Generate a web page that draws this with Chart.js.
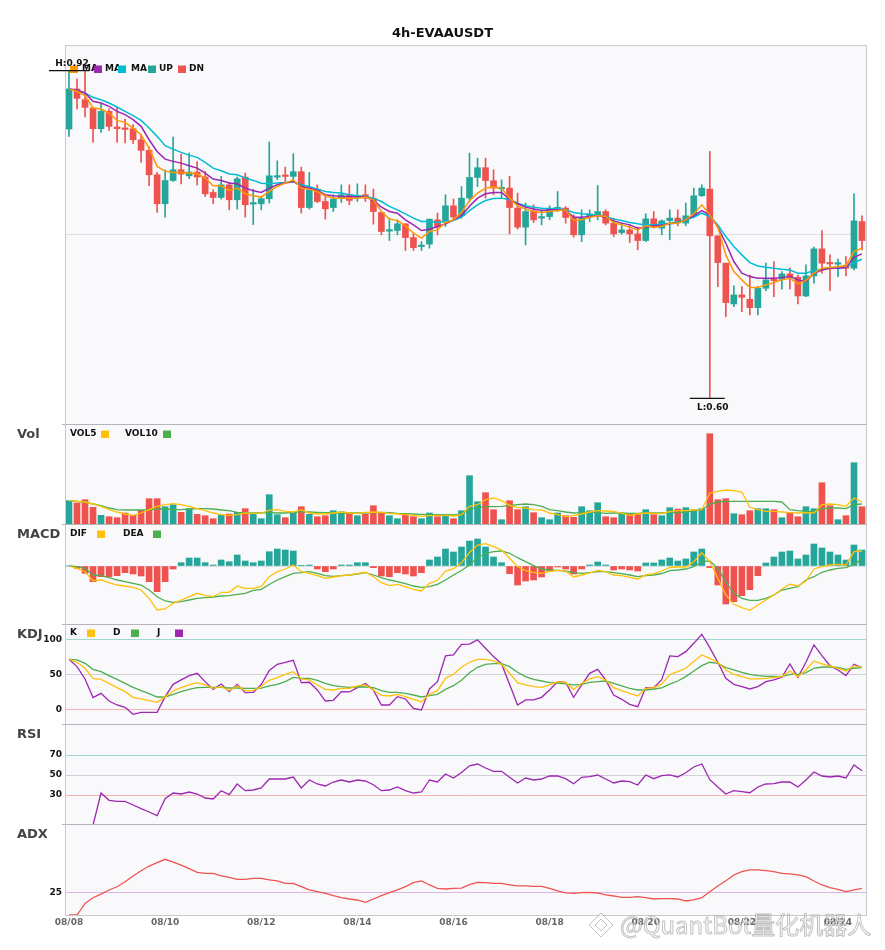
<!DOCTYPE html>
<html>
<head>
<meta charset="utf-8">
<title>4h-EVAAUSDT</title>
<script src="https://cdn.jsdelivr.net/npm/chart.js@4.4.1/dist/chart.umd.min.js"></script>
<style>
  html, body { margin: 0; padding: 0; background: #fff; }
</style>
</head>
<body>
<canvas id="kline" width="885" height="950"></canvas>
<script>
// ---- categories (4h candles from 08/08 00:00) ----
const days = ['08/08','08/09','08/10','08/11','08/12','08/13','08/14','08/15','08/16',
              '08/17','08/18','08/19','08/20','08/21','08/22','08/23','08/24'];
const hours = ['00:00','04:00','08:00','12:00','16:00','20:00'];
const candleCount = 100;

// ---- OHLC ----
const opens = [
  0.8630,0.9021,0.8916,0.8835,0.8633,0.8802,0.8650,0.8633,0.8633,0.8525,
  0.8421,0.8183,0.7900,0.8127,0.8232,0.8173,0.8210,0.8161,0.8010,0.7961,
  0.8085,0.7939,0.8160,0.7897,0.7900,0.7949,0.8160,0.8173,0.8167,0.8213,
  0.7863,0.8043,0.7922,0.7863,0.7961,0.7988,0.7955,0.7988,0.7955,0.7815,
  0.7633,0.7639,0.7704,0.7570,0.7482,0.7506,0.7743,0.7727,0.7880,0.7782,
  0.7955,0.8157,0.8252,0.8125,0.8046,0.8053,0.7858,0.7672,0.7831,0.7760,
  0.7775,0.7851,0.7858,0.7766,0.7597,0.7770,0.7792,0.7824,0.7711,0.7619,
  0.7645,0.7606,0.7541,0.7753,0.7662,0.7736,0.7760,0.7711,0.7792,0.7978,
  0.8043,0.7587,0.7320,0.6922,0.7010,0.6968,0.6886,0.7075,0.7157,0.7163,
  0.7215,0.7183,0.7000,0.7196,0.7460,0.7316,0.7310,0.7300,0.7271,0.7727];
const closes = [
  0.9021,0.8929,0.8841,0.8633,0.8802,0.8655,0.8633,0.8626,0.8525,0.8421,
  0.8183,0.7900,0.8127,0.8232,0.8190,0.8210,0.8161,0.7997,0.7961,0.8085,
  0.7939,0.8144,0.7890,0.7900,0.7949,0.8173,0.8173,0.8167,0.8213,0.7863,
  0.8037,0.7922,0.7851,0.7946,0.7988,0.7932,0.7981,0.7955,0.7824,0.7629,
  0.7639,0.7704,0.7570,0.7472,0.7489,0.7750,0.7678,0.7880,0.7770,0.7955,
  0.8157,0.8252,0.8127,0.8053,0.8056,0.7863,0.7672,0.7824,0.7743,0.7770,
  0.7851,0.7858,0.7766,0.7597,0.7760,0.7802,0.7824,0.7711,0.7606,0.7645,
  0.7606,0.7541,0.7753,0.7672,0.7733,0.7760,0.7717,0.7782,0.7978,0.8053,
  0.7587,0.7326,0.6935,0.7010,0.6987,0.6886,0.7075,0.7157,0.7150,0.7215,
  0.7183,0.7000,0.7196,0.7460,0.7320,0.7313,0.7313,0.7271,0.7733,0.7541];
const highs = [
  0.9200,0.9119,0.9190,0.8840,0.8874,0.8826,0.8841,0.8728,0.8672,0.8574,
  0.8454,0.8206,0.8232,0.8552,0.8386,0.8395,0.8313,0.8215,0.8037,0.8167,
  0.8108,0.8161,0.8200,0.8043,0.7971,0.8503,0.8320,0.8258,0.8389,0.8258,
  0.8206,0.8085,0.7971,0.7988,0.8085,0.8085,0.8095,0.8085,0.8043,0.7815,
  0.7760,0.7743,0.7704,0.7613,0.7531,0.7750,0.7809,0.7988,0.7946,0.8069,
  0.8395,0.8346,0.8346,0.8232,0.8134,0.8167,0.8004,0.7907,0.7890,0.7841,
  0.7880,0.8020,0.7873,0.7792,0.7841,0.7841,0.8079,0.7841,0.7760,0.7711,
  0.7694,0.7672,0.7802,0.7824,0.7743,0.7841,0.7841,0.7907,0.8053,0.8085,
  0.8411,0.7587,0.7320,0.7098,0.7091,0.7205,0.7091,0.7320,0.7335,0.7238,
  0.7271,0.7205,0.7303,0.7476,0.7639,0.7401,0.7359,0.7384,0.7997,0.7782];
const lows = [
  0.8558,0.8826,0.8747,0.8499,0.8597,0.8616,0.8499,0.8493,0.8486,0.8303,
  0.8076,0.7815,0.7770,0.8118,0.8095,0.8144,0.8085,0.7971,0.7900,0.7946,
  0.7841,0.7848,0.7770,0.7697,0.7841,0.7907,0.8134,0.8118,0.8134,0.7809,
  0.7848,0.7912,0.7750,0.7824,0.7912,0.7890,0.7922,0.7922,0.7701,0.7597,
  0.7541,0.7597,0.7443,0.7443,0.7443,0.7467,0.7597,0.7678,0.7750,0.7760,
  0.7922,0.8069,0.7955,0.7988,0.7955,0.7606,0.7652,0.7499,0.7717,0.7694,
  0.7743,0.7824,0.7711,0.7574,0.7531,0.7727,0.7743,0.7694,0.7580,0.7603,
  0.7521,0.7450,0.7531,0.7662,0.7597,0.7548,0.7685,0.7685,0.7770,0.7971,
  0.6000,0.7091,0.6798,0.6896,0.6847,0.6814,0.6814,0.7052,0.6993,0.7066,
  0.7066,0.6922,0.6993,0.7124,0.7222,0.7052,0.7189,0.7196,0.7254,0.7450];

// ---- moving averages on price ----
const ma5 = [
  0.9021,0.8998,0.8956,0.8835,0.8825,0.8786,0.8714,0.8695,0.8639,0.8574,
  0.8444,0.8265,0.8216,0.8206,0.8206,0.8200,0.8193,0.8151,0.8076,0.8076,
  0.8030,0.8053,0.7997,0.7978,0.7965,0.8020,0.8069,0.8102,0.8134,0.8053,
  0.8043,0.8020,0.7978,0.7955,0.7955,0.7955,0.7955,0.7965,0.7939,0.7825,
  0.7750,0.7737,0.7685,0.7613,0.7564,0.7629,0.7645,0.7717,0.7743,0.7815,
  0.7930,0.8004,0.8053,0.8063,0.8053,0.7955,0.7880,0.7848,0.7825,0.7815,
  0.7825,0.7834,0.7841,0.7737,0.7743,0.7769,0.7782,0.7776,0.7717,0.7694,
  0.7672,0.7645,0.7685,0.7672,0.7680,0.7711,0.7711,0.7743,0.7802,0.7890,
  0.7792,0.7672,0.7401,0.7238,0.7157,0.7082,0.7082,0.7108,0.7131,0.7157,
  0.7173,0.7117,0.7150,0.7222,0.7271,0.7277,0.7287,0.7293,0.7434,0.7466];
const ma7 = [
  0.9021,0.9008,0.8982,0.8900,0.8884,0.8851,0.8802,0.8770,0.8721,0.8656,
  0.8525,0.8411,0.8336,0.8314,0.8297,0.8271,0.8248,0.8200,0.8141,0.8128,
  0.8102,0.8095,0.8053,0.8027,0.8010,0.8053,0.8085,0.8102,0.8118,0.8069,
  0.8053,0.8030,0.7988,0.7978,0.7971,0.7971,0.7965,0.7971,0.7932,0.7867,
  0.7825,0.7808,0.7743,0.7694,0.7639,0.7652,0.7678,0.7704,0.7743,0.7787,
  0.7875,0.7955,0.7997,0.8010,0.8010,0.7945,0.7900,0.7867,0.7848,0.7834,
  0.7841,0.7841,0.7834,0.7769,0.7769,0.7776,0.7782,0.7769,0.7733,0.7711,
  0.7694,0.7662,0.7672,0.7685,0.7690,0.7704,0.7711,0.7743,0.7782,0.7834,
  0.7792,0.7672,0.7515,0.7336,0.7222,0.7189,0.7173,0.7173,0.7173,0.7179,
  0.7189,0.7157,0.7140,0.7222,0.7254,0.7271,0.7271,0.7277,0.7378,0.7411];
const ma10 = [
  0.9021,0.9008,0.8982,0.8939,0.8916,0.8884,0.8845,0.8802,0.8760,0.8714,
  0.8639,0.8558,0.8467,0.8434,0.8402,0.8375,0.8353,0.8304,0.8248,0.8222,
  0.8190,0.8183,0.8151,0.8128,0.8100,0.8095,0.8102,0.8108,0.8118,0.8085,
  0.8069,0.8043,0.8020,0.8010,0.8004,0.7988,0.7978,0.7971,0.7955,0.7922,
  0.7874,0.7841,0.7802,0.7760,0.7727,0.7727,0.7717,0.7727,0.7737,0.7770,
  0.7833,0.7890,0.7932,0.7952,0.7955,0.7939,0.7906,0.7880,0.7867,0.7857,
  0.7854,0.7854,0.7841,0.7815,0.7802,0.7795,0.7789,0.7776,0.7750,0.7737,
  0.7717,0.7704,0.7694,0.7694,0.7706,0.7711,0.7724,0.7743,0.7769,0.7808,
  0.7776,0.7694,0.7580,0.7483,0.7401,0.7326,0.7293,0.7280,0.7271,0.7261,
  0.7254,0.7222,0.7222,0.7248,0.7261,0.7271,0.7271,0.7280,0.7326,0.7359];

// ---- volume (k) ----
const volumes = [
  23.3,21.0,24.3,16.7,8.7,7.3,6.3,11.0,8.7,13.7,
  25.3,25.3,17.3,19.3,11.7,15.3,9.7,8.3,5.3,8.7,
  10.0,11.7,15.3,10.7,5.3,29.3,9.3,6.3,11.7,17.3,
  9.7,7.3,8.3,13.3,12.3,11.0,8.3,9.7,18.3,11.0,
  8.3,5.3,9.7,7.3,5.3,11.0,7.3,8.7,5.3,13.3,
  48.3,22.3,31.3,14.3,4.3,23.3,14.3,17.3,11.3,6.3,
  4.3,11.0,8.3,6.7,17.3,13.3,21.3,7.3,6.3,10.7,
  10.7,10.0,14.3,9.3,8.3,16.3,15.0,16.3,14.3,15.3,
  90.3,24.3,25.3,10.3,9.3,13.3,15.3,15.3,14.3,6.3,
  11.3,7.3,17.3,15.3,41.3,18.3,4.3,8.3,61.3,17.3];
const vol5 = [
  23.3,22.7,22.0,20.0,17.7,14.3,12.0,10.0,8.7,11.0,
  14.3,17.7,19.3,20.3,19.3,17.7,15.3,13.3,11.0,9.3,
  8.7,9.3,11.0,10.7,10.7,13.8,14.3,12.7,12.0,14.3,
  11.0,10.0,10.0,11.0,12.0,11.0,10.7,11.7,12.0,11.7,
  10.7,10.0,9.3,8.7,7.7,8.3,8.7,8.7,8.0,9.3,
  17.7,19.3,24.3,26.0,23.3,18.7,16.7,16.0,14.3,14.0,
  11.0,9.3,7.3,8.3,10.0,12.0,13.3,13.0,12.7,10.7,
  8.7,10.0,11.0,10.7,10.5,12.3,13.3,13.3,14.0,14.3,
  31.0,32.7,34.0,33.3,32.0,16.7,14.3,12.7,12.7,12.0,
  11.3,11.0,11.3,11.0,19.3,20.0,19.3,17.7,26.0,22.0];
const vol10 = [
  23.3,22.7,21.7,20.0,18.3,16.0,14.3,14.0,14.0,14.0,
  14.3,15.0,15.0,14.3,14.3,15.0,15.3,15.3,15.0,14.0,
  13.3,11.7,11.0,11.0,11.0,11.7,11.0,11.0,11.7,12.3,
  12.0,11.7,11.3,11.3,11.0,11.0,11.0,11.0,11.3,11.7,
  11.3,10.7,10.3,10.0,9.7,9.3,9.3,9.3,9.0,9.8,
  14.3,16.7,17.3,17.3,17.7,18.7,19.3,20.0,19.3,17.7,
  14.3,13.3,12.0,11.0,11.3,12.0,11.3,10.7,11.0,11.0,
  10.7,10.7,11.0,11.0,11.0,11.5,11.3,12.0,13.3,14.3,
  20.0,22.0,22.7,22.7,22.7,22.7,22.7,22.7,22.7,22.0,
  14.3,13.3,12.7,12.0,15.3,16.0,16.0,15.3,19.3,20.0];

// ---- MACD (x1e-4) ----
const macdHist = [
  0,-2.3,-7.3,-15.7,-10.7,-10.7,-9.7,-6.7,-8.0,-10.0,
  -15.7,-25.7,-15.7,-3.0,3.3,8.0,8.0,3.3,1.0,6.0,
  4.3,11.0,5.0,3.3,5.0,14.3,17.0,16.0,15.0,0.3,
  1.0,-3.0,-5.7,-3.0,1.0,1.0,3.3,3.3,-1.7,-10.0,
  -10.7,-6.7,-8.0,-10.0,-6.7,6.0,9.0,17.0,14.0,19.0,
  25.0,27.0,19.0,9.0,3.3,-7.7,-19.0,-15.0,-14.0,-11.0,
  -5.0,-1.0,-3.0,-8.0,-3.0,1.0,4.0,1.0,-4.0,-3.0,
  -4.0,-5.0,3.0,3.0,6.0,8.0,5.0,7.0,14.0,17.0,
  -1.7,-19.0,-38.0,-35.7,-29.7,-23.7,-9.7,3.0,9.0,14.0,
  15.0,7.0,11.0,22.0,18.0,14.0,11.0,6.0,21.0,16.0];
const dif = [
  0,-2.3,-5.7,-14.7,-14.0,-16.7,-19.0,-20.0,-21.3,-24.0,
  -32.3,-44.0,-43.0,-37.3,-34.0,-30.7,-27.3,-29.7,-30.7,-26.3,
  -26.3,-20.0,-22.3,-22.3,-20.5,-10.7,-5.7,-3.0,1.0,-5.7,
  -7.3,-9.7,-12.3,-11.0,-9.7,-9.0,-7.7,-6.3,-10.7,-16.7,
  -19.7,-18.3,-20.7,-23.3,-25.0,-17.3,-14.3,-5.0,-3.0,3.2,
  13.5,21.0,22.3,19.3,16.0,7.7,-0.7,-4.7,-6.3,-7.3,
  -5.7,-4.3,-5.0,-11.0,-9.0,-7.0,-4.3,-5.7,-9.0,-9.7,
  -11.3,-13.0,-9.0,-7.7,-5.0,-1.5,-1.0,-1.0,4.3,13.3,
  4.3,-12.3,-29.0,-38.3,-41.7,-44.3,-39.0,-34.0,-29.0,-23.0,
  -18.3,-20.0,-15.0,-3.0,-0.7,1.0,1.7,1.0,14.3,15.0];
const dea = [
  0,-0.7,-2.3,-9.0,-9.7,-11.7,-14.0,-15.7,-17.3,-19.0,
  -24.0,-30.7,-35.0,-36.3,-35.7,-34.0,-32.3,-31.7,-31.0,-30.0,
  -29.7,-28.3,-27.3,-24.3,-23.3,-18.5,-14.0,-10.7,-7.3,-6.7,
  -5.7,-7.3,-9.7,-10.3,-9.7,-9.0,-8.0,-6.7,-9.0,-11.7,
  -14.0,-15.7,-17.7,-20.0,-21.3,-20.7,-18.3,-14.0,-9.0,-4.5,
  1.0,8.3,12.7,14.3,15.0,12.7,8.3,4.3,0.3,-3.0,
  -4.0,-4.3,-5.0,-6.7,-7.3,-6.7,-5.7,-5.7,-6.7,-7.7,
  -9.0,-10.7,-9.7,-9.0,-7.5,-4.7,-4.0,-3.0,-0.7,4.3,
  5.0,-2.3,-15.7,-27.3,-32.3,-34.3,-34.3,-32.3,-29.0,-24.0,
  -22.3,-20.7,-14.0,-10.7,-6.3,-4.0,-2.3,-1.7,1.7,7.0];

// ---- KDJ ----
const kLine = [
  71.7,67.5,59.0,44.8,43.4,37.7,31.6,25.9,17.9,15.6,
  13.2,10.8,18.9,26.9,31.6,35.4,38.7,35.4,30.7,33.0,
  27.4,34.0,27.4,27.4,33.5,42.0,45.8,50.5,54.2,43.9,
  42.5,35.4,29.2,28.3,30.7,30.7,34.0,35.4,28.3,20.8,
  19.8,22.2,18.9,15.1,11.8,22.2,27.4,44.8,50.5,60.4,
  67.5,71.7,71.7,69.3,64.6,51.9,38.7,35.4,33.0,32.1,
  35.4,40.1,38.7,29.2,37.7,43.9,47.2,42.5,31.6,27.4,
  23.6,19.8,30.7,31.6,36.5,50.0,54.2,59.0,68.4,77.8,
  73.1,67.0,56.6,50.5,47.2,43.9,43.9,44.8,46.2,47.2,
  55.2,47.2,56.6,69.3,65.1,62.3,59.0,55.2,62.7,60.4];
const dLine = [
  71.7,70.8,66.0,57.5,54.2,48.6,43.4,37.7,32.1,27.4,
  23.1,18.4,18.4,22.2,25.9,29.2,31.6,32.1,32.1,32.1,
  31.1,31.1,30.7,30.7,31.0,34.0,36.3,40.1,46.2,44.8,
  44.8,42.0,37.7,34.4,33.0,32.1,32.5,32.5,31.6,27.4,
  25.0,25.0,23.6,21.2,18.4,20.3,22.2,29.2,34.4,42.0,
  52.6,60.4,64.6,65.6,65.6,61.3,53.3,47.2,43.4,41.0,
  38.7,38.2,36.8,35.4,36.3,39.2,40.1,41.0,37.7,34.0,
  30.7,28.3,28.3,29.7,31.4,36.5,41.0,47.2,55.2,62.7,
  67.5,66.0,59.9,56.6,53.3,50.5,48.6,47.6,47.6,47.2,
  50.5,50.5,52.8,59.0,60.8,60.8,60.4,57.5,59.0,59.9];
const jLine = [
  71.7,61.3,43.9,17.5,23.6,12.7,7.1,3.8,-6.1,-3.3,
  -3.3,-3.3,18.9,36.3,42.5,48.6,51.9,40.1,29.2,36.8,
  25.9,36.3,24.5,25.0,36.0,56.0,64.6,67.5,70.3,38.7,
  39.2,28.3,12.7,13.7,25.9,25.5,31.6,37.3,28.3,7.1,
  7.1,18.9,15.6,2.4,0.0,29.7,40.1,76.4,77.8,92.9,
  93.2,99.1,87.3,75.5,65.1,36.3,7.1,14.2,14.2,17.9,
  28.3,40.1,39.2,17.9,35.4,51.9,57.5,42.5,21.2,15.1,
  8.0,4.7,31.6,31.6,43.0,76.4,75.5,82.5,94.3,107.1,
  88.2,67.5,44.8,36.3,33.0,29.7,33.0,40.1,42.5,46.2,
  65.1,46.2,67.5,92.0,76.9,62.7,56.6,48.6,64.6,59.9];

// ---- RSI / ADX ----
const rsi = [
  null,null,null,0,32.0,24.7,23.7,23.7,20.0,16.3,
  13.0,9.3,26.3,32.0,31.0,33.0,31.0,27.0,26.0,34.3,
  30.3,41.0,34.3,35.0,37.0,46.0,46.0,46.0,48.0,37.0,
  45.0,41.0,39.0,43.0,45.0,43.0,45.0,44.0,40.3,34.3,
  35.0,38.0,34.3,32.0,33.0,45.0,43.0,51.0,47.0,52.5,
  59.2,61.0,57.0,53.7,53.7,47.7,42.0,47.0,45.0,46.0,
  49.0,49.0,46.3,41.3,47.7,48.3,50.0,46.0,42.0,44.0,
  43.3,40.0,50.0,46.3,49.3,50.2,48.0,52.3,58.0,61.0,
  45.3,38.0,31.0,34.3,33.3,32.3,38.0,41.0,41.3,43.0,
  43.0,38.0,45.0,53.0,49.0,48.0,49.0,47.0,60.0,54.3];
const adx = [
  0,0,12.8,19.0,23.0,27.5,31.0,36.6,42.9,48.7,
  53.8,57.5,61.2,58.2,54.9,50.9,46.9,45.8,45.8,42.9,
  41.4,39.2,39.2,40.3,40.3,38.5,37.4,34.8,34.8,31.1,
  27.5,25.6,23.8,21.2,19.0,17.6,16.5,13.9,17.6,21.2,
  24.5,27.5,31.1,35.5,37.4,33.0,29.3,28.6,29.3,29.6,
  33.3,35.9,35.5,34.8,34.8,33.0,31.9,31.9,31.5,31.5,
  29.3,26.4,24.2,23.8,24.5,24.9,24.2,22.0,20.9,19.4,
  19.4,20.1,19.0,17.6,18.0,18.0,17.6,15.4,16.5,19.0,
  25.6,31.9,37.7,44.0,47.6,49.5,49.5,48.7,47.6,45.8,
  45.1,44.0,42.1,37.4,33.0,30.0,28.2,25.6,27.5,29.3];

// ---- style ----
const FAMILY = '"DejaVu Sans", sans-serif';
const UP = '#26A69A', DN = '#EF5350';
const ORANGE = '#FF9800', PURPLE = '#9C27B0', CYAN = '#00BCD4';
const YELLOW = '#FFC107', GREEN = '#4CAF50';

const times = [];
for (let i = 0; i < candleCount; i++) {
  times.push(days[Math.floor(i / 6)] + ' ' + hours[i % 6]);
}
const candleColors = opens.map((o, i) => closes[i] >= o ? UP : DN);
const histColors = macdHist.map(v => v >= 0 ? UP : DN);

// panels, top to bottom
const PANELS = [
  {id: 'yPrice', title: '', ly: 24, legend: [
    {label: 'MA', bx: 5, tx: 17, color: ORANGE},
    {label: 'MA', bx: 29, tx: 40, color: PURPLE},
    {label: 'MA', bx: 53, tx: 66, color: CYAN},
    {label: 'UP', bx: 83, tx: 94, color: UP},
    {label: 'DN', bx: 113, tx: 124, color: DN}]},
  {id: 'yVol', title: 'Vol', ly: 10, legend: [
    {label: 'VOL5', tx: 5, bx: 36, color: YELLOW},
    {label: 'VOL10', tx: 60, bx: 98, color: GREEN}]},
  {id: 'yMacd', title: 'MACD', ly: 10, legend: [
    {label: 'DIF', tx: 5, bx: 32, color: YELLOW},
    {label: 'DEA', tx: 58, bx: 88, color: GREEN}]},
  {id: 'yKdj', title: 'KDJ', ly: 9, legend: [
    {label: 'K', tx: 5, bx: 22, color: YELLOW},
    {label: 'D', tx: 48, bx: 66, color: GREEN},
    {label: 'J', tx: 92, bx: 110, color: PURPLE}]},
  {id: 'yRsi', title: 'RSI', ly: 10, legend: []},
  {id: 'yAdx', title: 'ADX', ly: 10, legend: []}
];

const panelPlugin = {
  id: 'panelFrame',
  beforeDraw(chart) {
    const {ctx, chartArea: a} = chart;
    ctx.save();
    ctx.fillStyle = '#f9f9fb';
    ctx.fillRect(a.left, a.top, a.right - a.left, a.bottom - a.top);
    ctx.restore();
  },
  afterDatasetsDraw(chart) {
    const {ctx, chartArea: a, scales} = chart;
    ctx.save();
    ctx.lineWidth = 1;
    ctx.strokeStyle = '#b4b4bc';
    PANELS.slice(0, -1).forEach(p => {
      const y = Math.round(scales[p.id].bottom) + 0.5;
      ctx.beginPath(); ctx.moveTo(a.left - 3, y); ctx.lineTo(a.right, y); ctx.stroke();
    });
    ctx.strokeStyle = '#c8c8d0';
    ctx.strokeRect(Math.round(a.left) + 0.5, Math.round(a.top) + 0.5,
                   Math.round(a.right - a.left), Math.round(a.bottom - a.top));

    ctx.textBaseline = 'middle';
    ctx.textAlign = 'left';
    PANELS.forEach(p => {
      const top = scales[p.id].top;
      if (p.title) {
        ctx.font = 'bold 13px ' + FAMILY;
        ctx.fillStyle = '#444';
        ctx.fillText(p.title, 17, top + 11);
      }
      ctx.font = 'bold 9px ' + FAMILY;
      p.legend.forEach(it => {
        ctx.fillStyle = it.color;
        ctx.fillRect(a.left + it.bx, top + p.ly - 3.5, 8, 7.5);
        ctx.fillStyle = '#111';
        ctx.fillText(it.label, a.left + it.tx, top + p.ly);
      });
    });

    // highest / lowest marks
    const xs = scales.x, ys = scales.yPrice;
    const hi = highs.indexOf(Math.max(...highs));
    const lo = lows.indexOf(Math.min(...lows));
    const hx = xs.getPixelForValue(hi), hy = ys.getPixelForValue(highs[hi]);
    const lx = xs.getPixelForValue(lo), ly = ys.getPixelForValue(lows[lo]);
    ctx.strokeStyle = '#111';
    ctx.lineWidth = 1.2;
    ctx.beginPath(); ctx.moveTo(hx - 20, hy); ctx.lineTo(hx + 20, hy); ctx.stroke();
    ctx.beginPath(); ctx.moveTo(lx - 20, ly); ctx.lineTo(lx + 15, ly); ctx.stroke();
    ctx.fillStyle = '#111';
    ctx.font = 'bold 9px ' + FAMILY;
    ctx.textAlign = 'center';
    ctx.fillText('H:' + highs[hi].toFixed(2), hx + 3, hy - 7);
    ctx.fillText('L:' + lows[lo].toFixed(2), lx + 3, ly + 9);
    ctx.restore();
  },
  afterDraw(chart) {
    const {ctx} = chart;
    ctx.save();
    // watermark
    ctx.lineWidth = 1;
    ctx.strokeStyle = 'rgba(120,120,120,0.45)';
    ctx.fillStyle = 'rgba(255,255,255,0.6)';
    ctx.beginPath();
    ctx.moveTo(601, 913); ctx.lineTo(613, 925); ctx.lineTo(601, 937); ctx.lineTo(589, 925); ctx.closePath();
    ctx.fill(); ctx.stroke();
    ctx.beginPath();
    ctx.moveTo(601, 919); ctx.lineTo(607, 925); ctx.lineTo(601, 931); ctx.lineTo(595, 925); ctx.closePath();
    ctx.stroke();
    ctx.font = '24px "Noto Sans CJK SC", "Noto Sans", sans-serif';
    ctx.textBaseline = 'alphabetic';
    ctx.textAlign = 'left';
    ctx.fillText('@QuantBot量化机器人', 620, 934);
    ctx.strokeText('@QuantBot量化机器人', 620, 934);
    ctx.restore();
  }
};

function line(label, data, axis, color, width) {
  return {type: 'line', label, data, yAxisID: axis, borderColor: color, backgroundColor: color,
          borderWidth: width || 1.3, pointRadius: 0, tension: 0, fill: false, order: 1};
}

function yAxis(weight, stackWeight, min, max, tickValues, gridColor, showLabels) {
  return {
    position: 'left', stack: 'panels', weight, stackWeight, min, max, offset: false,
    border: {display: false},
    grid: {display: tickValues.length > 0, drawTicks: false, lineWidth: 1, color: gridColor},
    ticks: {display: showLabels, padding: 3, color: '#111', font: {family: FAMILY, size: 9, weight: 'bold'}},
    afterBuildTicks: s => { s.ticks = tickValues.map(v => ({value: v})); },
    afterFit: s => { s.width = 46; }
  };
}

const levelColor = c => {
  const v = c.tick.value;
  if (v === 100 || v === 70) return '#9fd9d2';
  if (v === 0 || v === 30) return '#f6b4b4';
  return '#cfcfd5';
};

new Chart(document.getElementById('kline'), {
  type: 'bar',
  data: {
    labels: times,
    datasets: [
      {type: 'bar', label: 'wick', data: lows.map((l, i) => [l, highs[i]]), yAxisID: 'yPrice',
       backgroundColor: candleColors, barThickness: 1, grouped: false, order: 10},
      {type: 'bar', label: 'body', data: opens.map((o, i) => [o, closes[i]]), yAxisID: 'yPrice',
       backgroundColor: candleColors, barThickness: 6, minBarLength: 1.5, grouped: false, order: 9},
      line('MA5', ma5, 'yPrice', ORANGE, 1.5),
      line('MA7', ma7, 'yPrice', PURPLE, 1.5),
      line('MA10', ma10, 'yPrice', CYAN, 1.5),
      {type: 'bar', label: 'VOL', data: volumes, yAxisID: 'yVol',
       backgroundColor: candleColors, barThickness: 6, grouped: false, order: 9},
      line('VOL5', vol5, 'yVol', YELLOW),
      line('VOL10', vol10, 'yVol', GREEN),
      {type: 'bar', label: 'MACD', data: macdHist, yAxisID: 'yMacd',
       backgroundColor: histColors, barThickness: 6, grouped: false, order: 9},
      line('DIF', dif, 'yMacd', YELLOW),
      line('DEA', dea, 'yMacd', GREEN),
      line('K', kLine, 'yKdj', YELLOW),
      line('D', dLine, 'yKdj', GREEN),
      line('J', jLine, 'yKdj', PURPLE),
      line('RSI', rsi, 'yRsi', PURPLE),
      line('ADX', adx, 'yAdx', DN)
    ]
  },
  options: {
    responsive: false,
    animation: false,
    layout: {padding: {top: 26, left: 19, right: 19, bottom: 0}},
    plugins: {
      legend: {display: false},
      tooltip: {enabled: false},
      title: {display: true, text: '4h-EVAAUSDT', color: '#111',
              font: {family: FAMILY, size: 13, weight: 'bold'}, padding: {top: 0, bottom: 3.4}}
    },
    scales: {
      x: {
        type: 'category', offset: true,
        grid: {display: false}, border: {display: false},
        ticks: {autoSkip: false, maxRotation: 0, minRotation: 0, padding: -6, color: '#666',
                font: {family: FAMILY, size: 9, weight: 'bold'},
                callback: (v, i) => i % 12 === 0 ? times[i].slice(0, 5) : null},
        afterFit: s => { s.height = 35; }
      },
      yPrice: yAxis(6, 379, 0.575, 0.945, [0.76], '#dedee3', false),
      yVol:   yAxis(5, 100, 0, 100, [], '#ddd', false),
      yMacd:  yAxis(4, 100, -58, 42, [0], '#dcdce2', false),
      yKdj:   yAxis(3, 100, -19.8, 121.6, [0, 50, 100], levelColor, true),
      yRsi:   yAxis(2, 100, 1, 101, [30, 50, 70], levelColor, true),
      yAdx:   yAxis(1, 91, 0, 100, [25], '#dcb6e4', true)
    }
  },
  plugins: [panelPlugin]
});
</script>
</body>
</html>
